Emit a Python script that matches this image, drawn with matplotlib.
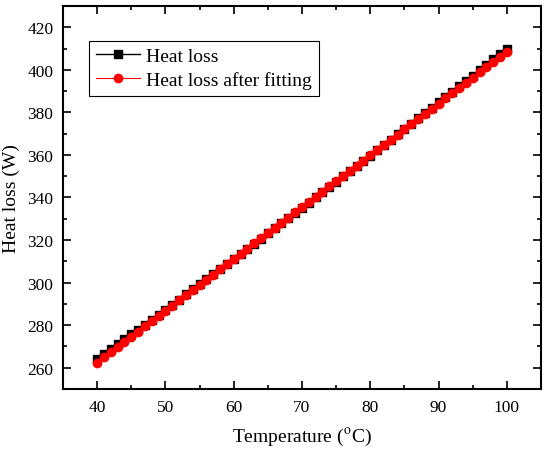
import matplotlib
matplotlib.use("Agg")
import matplotlib.pyplot as plt
from matplotlib.ticker import MultipleLocator

# temperature (C) and heat loss (W)
temperature = list(range(40, 101))

heat_loss = [
    264.00, 266.32, 268.63, 270.96, 273.29, 275.62, 277.95, 280.29, 282.63, 284.98,
    287.33, 289.69, 292.05, 294.41, 296.78, 299.15, 301.53, 303.91, 306.29, 308.68,
    311.07, 313.46, 315.86, 318.26, 320.67, 323.08, 325.50, 327.92, 330.34, 332.77,
    335.20, 337.63, 340.07, 342.52, 344.97, 347.42, 349.87, 352.33, 354.80, 357.26,
    359.73, 362.21, 364.69, 367.17, 369.66, 372.15, 374.65, 377.15, 379.65, 382.16,
    384.67, 387.18, 389.70, 392.23, 394.75, 397.28, 399.82, 402.36, 404.90, 407.45,
    410.00,
]

heat_loss_fit = [
    262.40, 264.84, 267.27, 269.71, 272.14, 274.58, 277.01, 279.45, 281.88, 284.32,
    286.75, 289.19, 291.62, 294.06, 296.49, 298.93, 301.36, 303.80, 306.23, 308.67,
    311.10, 313.54, 315.97, 318.41, 320.84, 323.28, 325.71, 328.15, 330.58, 333.02,
    335.45, 337.89, 340.32, 342.76, 345.19, 347.63, 350.06, 352.50, 354.93, 357.37,
    359.80, 362.24, 364.67, 367.11, 369.54, 371.98, 374.41, 376.85, 379.28, 381.72,
    384.15, 386.59, 389.02, 391.46, 393.89, 396.33, 398.76, 401.20, 403.63, 406.07,
    408.50,
]

plt.rcParams["font.family"] = ["Liberation Serif", "DejaVu Serif"]
plt.rcParams["mathtext.fontset"] = "stix"

fig = plt.figure(figsize=(5.5, 4.52), dpi=100)
ax = fig.add_axes([0.1145, 0.1372, 0.8691, 0.8473])

ax.plot(temperature, heat_loss, color="black", lw=1.0, marker="s", ms=5.5,
        label="Heat loss")
ax.plot(temperature, heat_loss_fit, color="red", lw=0.8, marker="o", ms=6,
        label="Heat loss after fitting")

ax.set_xlim(35, 105)
ax.set_ylim(250, 430)
ax.xaxis.set_major_locator(MultipleLocator(10))
ax.xaxis.set_minor_locator(MultipleLocator(5))
ax.yaxis.set_major_locator(MultipleLocator(20))
ax.yaxis.set_minor_locator(MultipleLocator(10))
ax.tick_params(which="both", direction="in", top=True, right=True,
               labeltop=False, labelright=False, width=1.2, labelsize=12.5)
ax.tick_params(which="major", length=6, pad=7)
ax.tick_params(which="minor", length=3)
for sp in ax.spines.values():
    sp.set_linewidth(1.5)

ax.set_xlabel("Temperature ($^{\\mathrm{o}}$C)", fontsize=14)
ax.set_ylabel("Heat loss (W)", fontsize=14)
ax.xaxis.set_label_coords(0.5, -0.095)
ax.yaxis.set_label_coords(-0.09, 0.5)

leg = ax.legend(loc="upper left", bbox_to_anchor=(0.054, 0.909), borderaxespad=0,
                fontsize=14, fancybox=False, edgecolor="black", framealpha=1,
                handlelength=2.3, handletextpad=0.3, borderpad=0.35, labelspacing=0.3)
leg.get_frame().set_linewidth(0.8)

fig.savefig("out.png", dpi=100)
